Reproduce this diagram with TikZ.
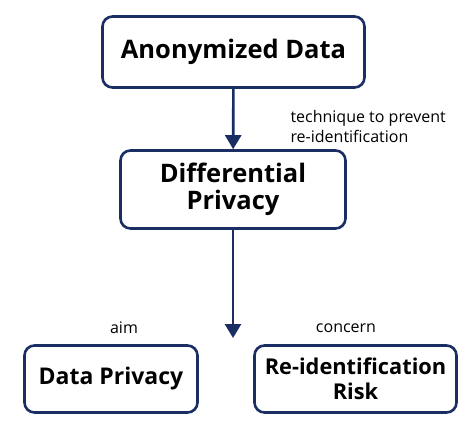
\documentclass[tikz,border=0pt]{standalone}
\usepackage{fontspec}
\setmainfont{Open Sans}
\usetikzlibrary{arrows.meta}
\definecolor{navy}{RGB}{27,46,100}
\begin{document}
\begin{tikzpicture}[x=1pt,y=1pt,
  box/.style={draw=navy,line width=2.6pt,rounded corners=10pt,align=center,inner sep=2pt,
    font=\bfseries\fontsize{25.5}{27}\selectfont},
  small/.style={font=\bfseries\fontsize{23}{25}\selectfont},
  smaller/.style={font=\bfseries\fontsize{21.8}{25}\selectfont},
  link/.style={draw=navy,line width=2.6pt,-{Triangle[width=16pt,length=14pt]}},
  lbl/.style={font=\fontsize{16}{20}\selectfont,align=left}]
\useasboundingbox (0,0) rectangle (474,-439);
\node[box,minimum width=262pt,minimum height=71pt] (anon) at (233.5,-52) {Anonymized Data};
\node[box,minimum width=225pt,minimum height=78pt] (dp) at (233,-189.5) {Differential\\Privacy};
\node[box,small,minimum width=173pt,minimum height=67pt] (priv) at (111,-379) {Data Privacy};
\node[box,smaller,minimum width=202pt,minimum height=67pt] (risk) at (355.5,-379) {Re-identification\\Risk};
\coordinate (split) at (233,-338);
\draw[link] (anon) -- (dp);
\draw[link] (dp) -- (split);
\node[lbl,anchor=north west] (tech) at (287,-107) {technique to prevent\\re-identification};
\node[lbl] (aim) at (124,-328) {aim};
\node[lbl] (concern) at (346,-328) {concern};
\end{tikzpicture}
\end{document}
